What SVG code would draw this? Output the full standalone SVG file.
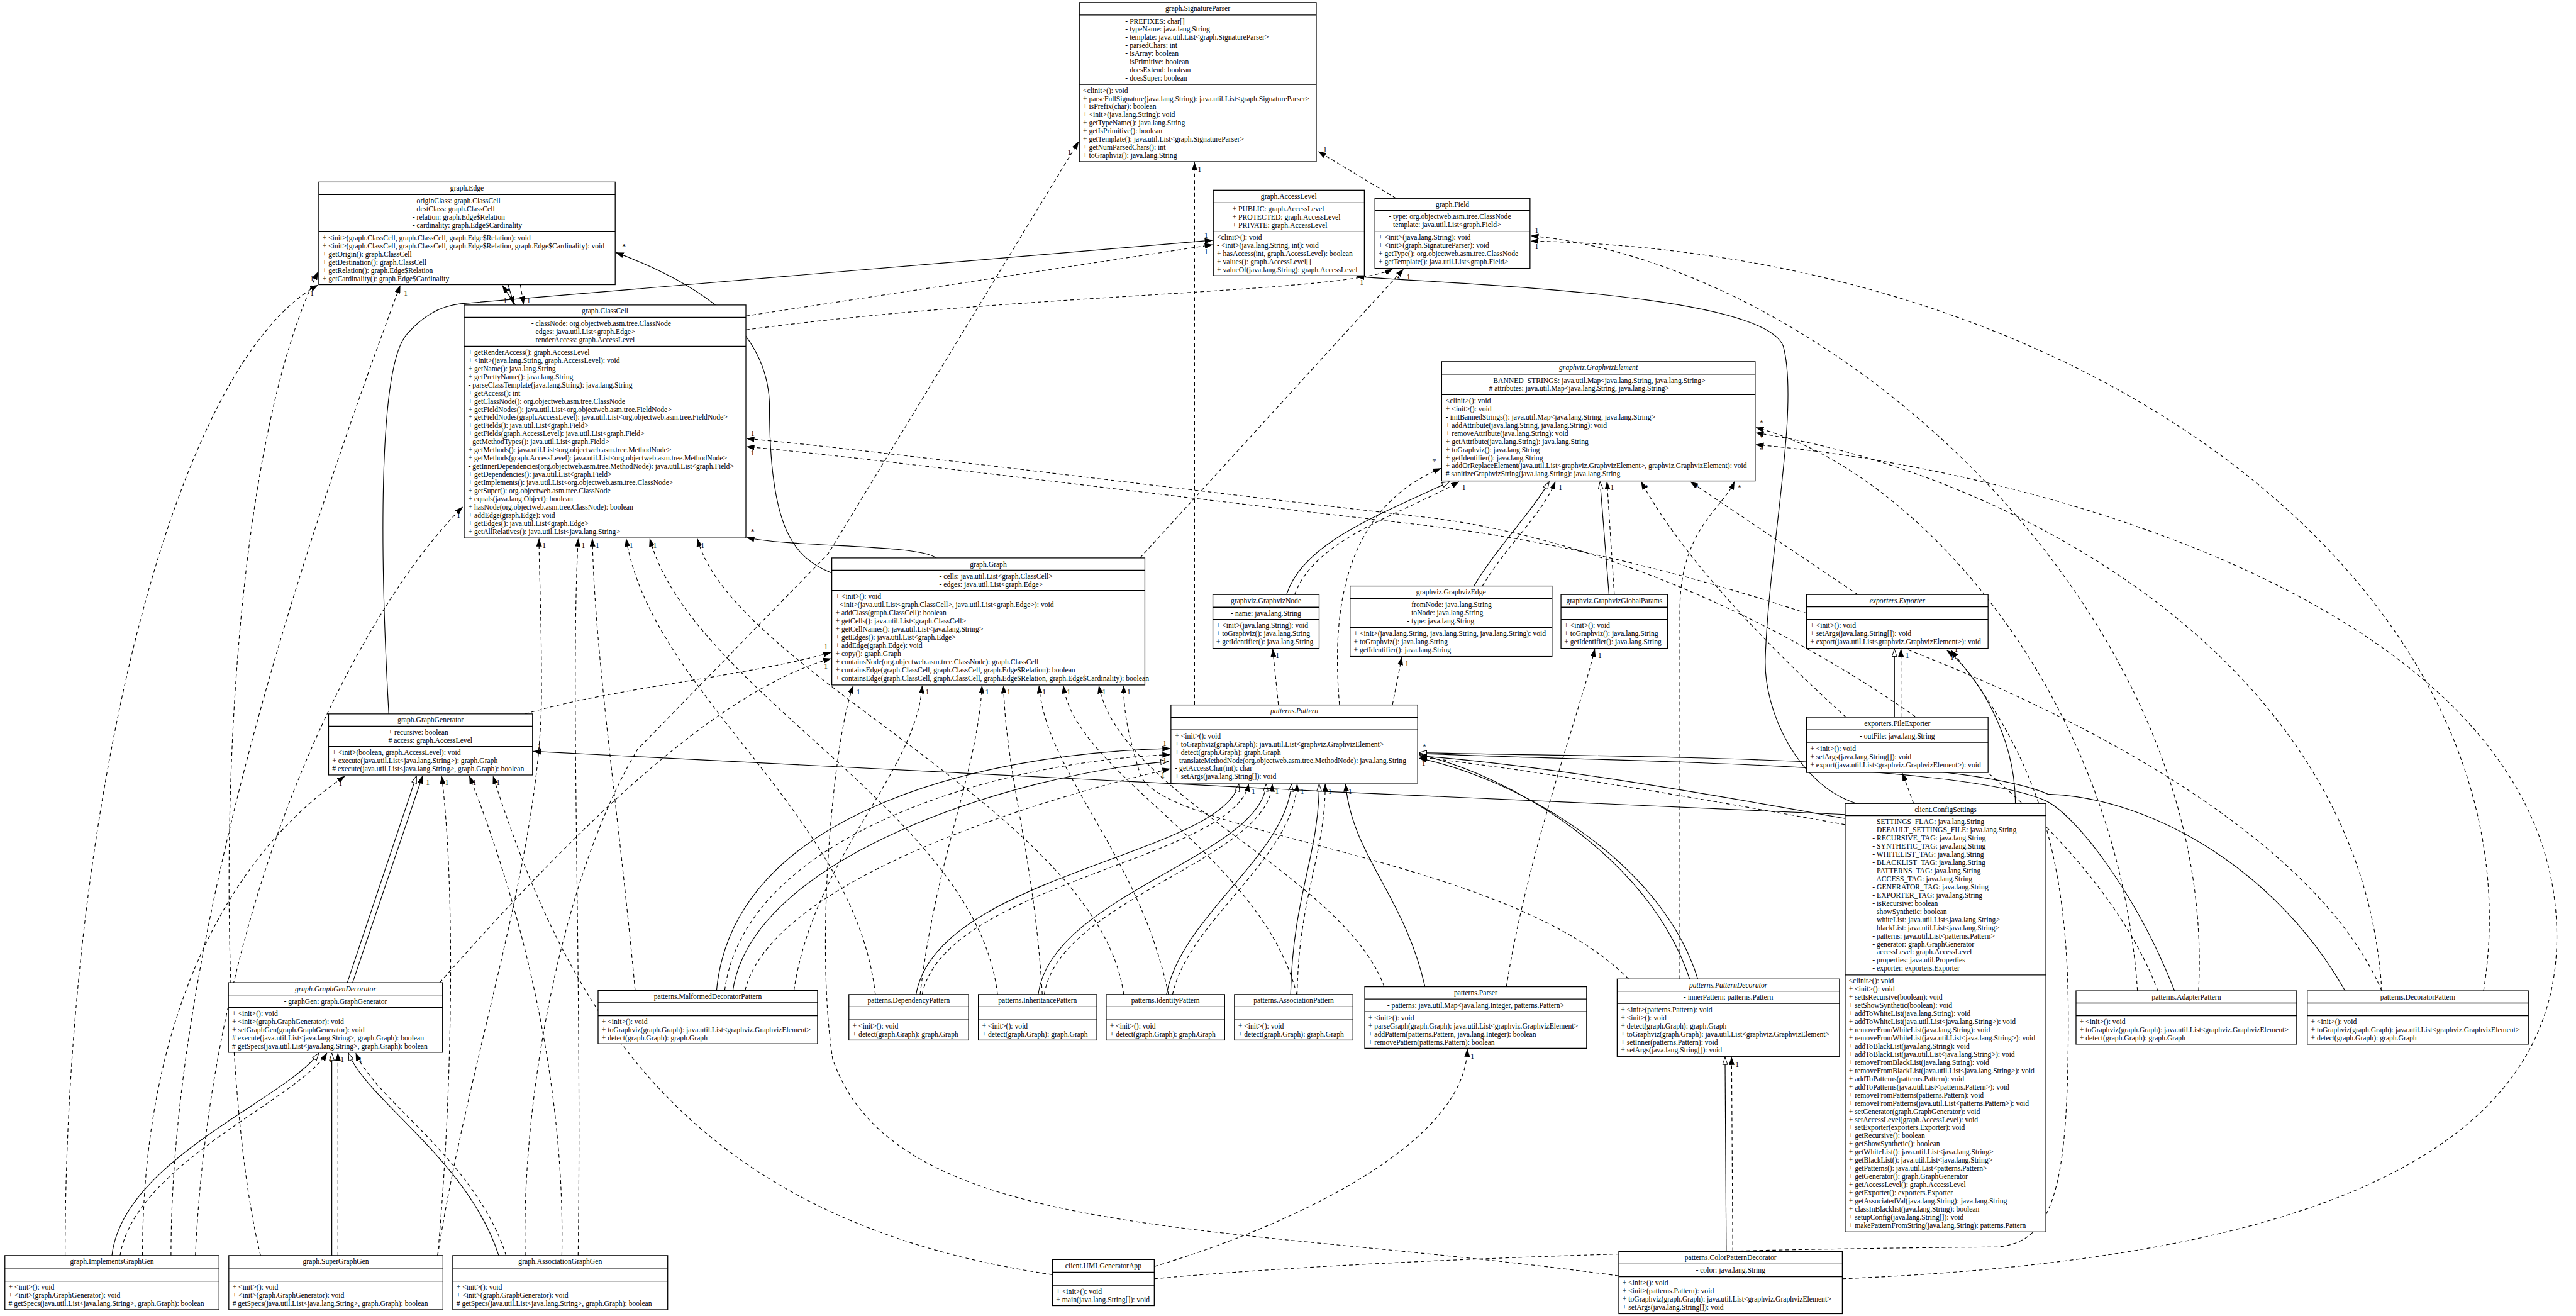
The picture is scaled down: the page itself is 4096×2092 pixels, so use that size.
<svg xmlns="http://www.w3.org/2000/svg" width="4096" height="2092" viewBox="0 0 4096 2092">
<defs>
<style>
.b{fill:#fff;stroke:#000;stroke-width:2}
.dv{stroke:#000;stroke-width:2;fill:none}
text{font-family:"Liberation Serif","Times New Roman",serif;font-size:18px;fill:#000}
.c{text-anchor:middle}
.i{font-style:italic}
.e{fill:none;stroke:#000;stroke-width:1.8}
.d{stroke-dasharray:9 7}
.f{marker-end:url(#af)}
.h{marker-end:url(#ah)}
</style>
<marker id="af" markerUnits="userSpaceOnUse" markerWidth="20" markerHeight="14" viewBox="0 0 20 14" refX="19" refY="7" orient="auto"><path d="M0,0L20,7L0,14z" fill="#000"/></marker>
<marker id="ah" markerUnits="userSpaceOnUse" markerWidth="20" markerHeight="14" viewBox="0 0 20 14" refX="19" refY="7" orient="auto"><path d="M1,1L19,7L1,13z" fill="#fff" stroke="#000" stroke-width="1.5"/></marker>
</defs>
<rect width="4096" height="2092" fill="#fff"/>
<g transform="scale(0.64738)">
<g id="connectors">
<path class="e d f" d="M3429,487 L3238,372"/>
<path class="e d f" d="M2934,1731 L2934,399"/>
<path class="e d f" d="M1290,3083 C1280,2700 1380,2150 1566,1840 L2034,1360 L2649,348"/>
<path class="e d f" d="M420,3083 C420,2300 760,1300 983,701"/>
<path class="e f" d="M1266,749 L1234,701"/>
<path class="e f" d="M1248,699 L1262,747"/>
<path class="e d f" d="M1278,699 L1286,747"/>
<path class="e f" d="M2043,1407 C1950,1370 1890,1300 1890,1000 C1890,800 1700,690 1513,620"/>
<path class="e d f" d="M640,3083 C520,2600 520,1200 781,668"/>
<path class="e d f" d="M160,3083 C160,2000 420,900 781,700"/>
<path class="e f" d="M955,1753 C935,1400 925,900 1000,820 C1040,775 1080,752 1131,746 L2978,590"/>
<path class="e d f" d="M1832,776 L2978,601"/>
<path class="e d f" d="M480,3083 C520,2200 880,1500 1136,1245"/>
<path class="e d f" d="M1075,3083 C1150,2600 1330,2100 1330,1700 C1330,1500 1324,1400 1324,1323"/>
<path class="e d f" d="M1420,3083 C1430,2400 1400,1700 1420,1323"/>
<path class="e d f" d="M1560,2432 C1520,2000 1460,1600 1455,1323"/>
<path class="e d f" d="M2150,2442 C2100,2000 1600,1700 1538,1323"/>
<path class="e d f" d="M2450,2442 C2400,2000 1700,1700 1596,1323"/>
<path class="e d f" d="M2760,2442 C2700,2000 1800,1650 1713,1323"/>
<path class="e d f" d="M5300,2433 C5100,1900 4200,1350 3500,1270 C2800,1190 2100,1100 1834,1077"/>
<path class="e d f" d="M5850,2433 C5600,1850 4300,1380 3500,1290 C2800,1210 2100,1120 1834,1097"/>
<path class="e f" d="M2300,1370 C2250,1335 1950,1345 1834,1320"/>
<path class="e d f" d="M1290,1753 C1500,1690 1840,1660 2041,1602"/>
<path class="e d f" d="M1080,2413 C1400,2050 1750,1700 2041,1617"/>
<path class="e d f" d="M1950,2432 C2000,2100 2250,1900 2265,1684"/>
<path class="e d f" d="M2260,2442 C2300,2100 2400,1900 2412,1684"/>
<path class="e d f" d="M2560,2442 C2540,2100 2470,1900 2465,1684"/>
<path class="e d f" d="M2870,2442 C2800,2100 2570,1900 2552,1684"/>
<path class="e d f" d="M3185,2442 C3100,2100 2640,1900 2612,1684"/>
<path class="e d f" d="M3400,2423 C3300,2150 2750,1950 2699,1684"/>
<path class="e d f" d="M4000,2404 C3700,2100 2850,2050 2800,1900 C2770,1800 2760,1750 2760,1684"/>
<path class="e h" d="M1800,2432 C1850,2100 2500,1900 2869,1870"/>
<path class="e d f" d="M1830,2432 C1900,2150 2600,1950 2874,1888"/>
<path class="e f" d="M1760,2432 C1800,2000 2400,1850 2874,1838"/>
<path class="e d f" d="M1780,2432 C1830,2050 2450,1870 2874,1853"/>
<path class="e h" d="M2250,2442 C2300,2150 3000,2100 3043,1925"/>
<path class="e d f" d="M2265,2442 C2320,2170 3030,2110 3067,1925"/>
<path class="e h" d="M2550,2442 C2580,2200 3100,2100 3110,1925"/>
<path class="e d f" d="M2565,2442 C2600,2210 3115,2110 3125,1925"/>
<path class="e h" d="M2865,2442 C2900,2250 3160,2100 3172,1925"/>
<path class="e d f" d="M2880,2442 C2920,2260 3175,2110 3186,1925"/>
<path class="e h" d="M3170,2442 C3175,2200 3240,2100 3240,1925"/>
<path class="e d f" d="M3186,2442 C3190,2200 3255,2100 3255,1925"/>
<path class="e f" d="M3500,2423 C3450,2200 3320,2100 3305,1925"/>
<path class="e h" d="M4150,2404 C4050,2100 3700,1900 3486,1853"/>
<path class="e f" d="M4170,2404 C4080,2110 3720,1910 3486,1862"/>
<path class="e h" d="M5341,2433 C5250,2200 5100,2000 5022,1965 C4800,1870 3900,1870 3486,1850"/>
<path class="e h" d="M5760,2433 C5600,2150 5300,1960 5030,1950 C4800,1850 3900,1860 3486,1848"/>
<path class="e f" d="M4532,2010 C4200,1950 3800,1880 3486,1856"/>
<path class="e d f" d="M4532,2025 C4200,1965 3800,1895 3486,1859"/>
<path class="e d f" d="M5400,2433 C5450,1500 4500,650 3760,579"/>
<path class="e d f" d="M6100,2433 C6250,1500 5200,620 3760,592"/>
<path class="e d f" d="M5250,2433 C5200,1700 4700,1150 4313,1050"/>
<path class="e d f" d="M5850,2433 C5800,1600 4900,1150 4313,1063"/>
<path class="e d f" d="M4126,2404 L4126,1500 C4126,1300 4230,1250 4260,1183"/>
<path class="e d f" d="M3290,1731 C3270,1500 3300,1250 3539,1150"/>
<path class="e d f" d="M3140,1731 L3126,1594"/>
<path class="e d f" d="M3420,1731 L3443,1614"/>
<path class="e d f" d="M3700,2423 C3750,2100 3880,1750 3917,1594"/>
<path class="e d f" d="M4563,1460 L4152,1183"/>
<path class="e f" d="M4950,1973 C4950,1800 4850,1650 4782,1597"/>
<path class="e d f" d="M2835,3140 C3500,3080 4500,3065 4900,3062 C5050,3055 5080,2900 5080,2500 C5080,2100 5000,1850 4792,1597"/>
<path class="e d f" d="M4700,1973 L4673,1899"/>
<path class="e d f" d="M4534,1761 C4400,1640 4150,1400 4031,1183"/>
<path class="e f" d="M4532,2000 C3500,1960 2000,1880 1310,1845"/>
<path class="e f" d="M4560,1973 C4420,1930 4330,1750 4336,1613 C4345,1350 4420,1000 4380,850 C4330,720 3600,700 3332,679"/>
<path class="e d f" d="M1832,810 C2500,720 3300,720 3420,661"/>
<path class="e d f" d="M2800,1370 L3447,661"/>
<path class="e d f" d="M2835,3110 C3200,3000 3600,2800 3604,2576"/>
<path class="e h" d="M4240,3073 L4237,2596"/>
<path class="e d f" d="M4256,3073 L4253,2596"/>
<path class="e d f" d="M4525,3140 C5500,3100 6280,2900 6280,2300 C6280,1500 5000,1150 4313,1092"/>
<path class="e d f" d="M3976,3133 C3000,3000 2200,3050 2045,2600 C2000,2300 2050,1800 2096,1684"/>
<path class="e d f" d="M2585,3130 C1700,3000 1400,2500 1211,1906"/>
<path class="e d f" d="M1075,3083 C1110,2700 1120,2200 1085,1906"/>
<path class="e d f" d="M1380,3083 C1390,2600 1250,2150 1153,1906"/>
<path class="e d f" d="M350,3083 C350,2500 560,2100 847,1906"/>
<path class="e h" d="M275,3083 C300,2850 700,2700 783,2586"/>
<path class="e d f" d="M295,3083 C330,2860 730,2700 803,2586"/>
<path class="e h" d="M815,3083 L815,2586"/>
<path class="e d f" d="M830,3083 L830,2586"/>
<path class="e h" d="M1225,3083 C1150,2850 900,2700 856,2586"/>
<path class="e d f" d="M1243,3083 C1170,2850 920,2700 874,2586"/>
<path class="e h" d="M853,2413 L1023,1905"/>
<path class="e f" d="M866,2413 L1038,1905"/>
<path class="e h" d="M3160,1460 C3200,1330 3400,1260 3560,1183"/>
<path class="e d f" d="M3180,1460 C3230,1320 3450,1260 3583,1183"/>
<path class="e h" d="M3620,1439 C3680,1340 3760,1260 3805,1183"/>
<path class="e d f" d="M3641,1439 C3700,1340 3790,1260 3820,1183"/>
<path class="e h" d="M3952,1460 L3930,1183"/>
<path class="e d f" d="M3965,1460 L3947,1183"/>
<path class="e h" d="M4653,1761 L4653,1594"/>
<path class="e d f" d="M4669,1761 L4669,1594"/>
<g id="labels">
<text x="3250" y="374">1</text>
<text x="2942" y="422">1</text>
<text x="2622" y="380">1</text>
<text x="992" y="726">1</text>
<text x="1244" y="720">*</text>
<text x="1236" y="744">1</text>
<text x="1294" y="744">1</text>
<text x="1528" y="612">*</text>
<text x="762" y="690">1</text>
<text x="762" y="726">1</text>
<text x="2958" y="584">1</text>
<text x="2958" y="624">1</text>
<text x="1122" y="1272">1</text>
<text x="1332" y="1346">1</text>
<text x="1428" y="1346">1</text>
<text x="1463" y="1346">1</text>
<text x="1546" y="1346">1</text>
<text x="1604" y="1346">1</text>
<text x="1721" y="1346">1</text>
<text x="1844" y="1070">1</text>
<text x="1844" y="1118">1</text>
<text x="1844" y="1312">*</text>
<text x="2024" y="1594">1</text>
<text x="2024" y="1642">1</text>
<text x="2273" y="1706">1</text>
<text x="2420" y="1706">1</text>
<text x="2473" y="1706">1</text>
<text x="2560" y="1706">1</text>
<text x="2620" y="1706">1</text>
<text x="2707" y="1706">1</text>
<text x="2768" y="1706">1</text>
<text x="2104" y="1706">1</text>
<text x="2856" y="1832">1</text>
<text x="2856" y="1874">1</text>
<text x="2852" y="1910">1</text>
<text x="3074" y="1950">1</text>
<text x="3132" y="1950">1</text>
<text x="3194" y="1950">1</text>
<text x="3262" y="1950">1</text>
<text x="3312" y="1950">1</text>
<text x="3492" y="1880">1</text>
<text x="3494" y="1840">*</text>
<text x="3770" y="572">1</text>
<text x="3770" y="612">1</text>
<text x="4322" y="1044">*</text>
<text x="4322" y="1080">*</text>
<text x="4322" y="1110">*</text>
<text x="4268" y="1204">*</text>
<text x="3518" y="1138">*</text>
<text x="3133" y="1616">1</text>
<text x="3451" y="1636">1</text>
<text x="3925" y="1616">1</text>
<text x="4162" y="1202">*</text>
<text x="4790" y="1620">1</text>
<text x="4800" y="1600">1</text>
<text x="4680" y="1616">1</text>
<text x="4040" y="1204">*</text>
<text x="1320" y="1838">1</text>
<text x="3340" y="700">1</text>
<text x="3430" y="690">*</text>
<text x="3455" y="686">1</text>
<text x="3612" y="2600">1</text>
<text x="4262" y="2620">1</text>
<text x="1219" y="1928">1</text>
<text x="1093" y="1928">1</text>
<text x="1161" y="1928">1</text>
<text x="832" y="1930">1</text>
<text x="1046" y="1928">1</text>
<text x="808" y="2608">1</text>
<text x="836" y="2608">1</text>
<text x="880" y="2608">1</text>
<text x="3591" y="1204">1</text>
<text x="3828" y="1204">1</text>
<text x="3955" y="1204">1</text>
</g>
</g>
<g id="SignatureParser"><rect class="b" x="2651" y="6" width="582" height="391"/><path class="dv" d="M2651,37H3233M2651,207H3233"/><text class="c" x="2942" y="27">graph.SignatureParser</text>
<text x="2764" y="58">- PREFIXES: char[]<tspan x="2764" dy="20">- typeName: java.lang.String</tspan><tspan x="2764" dy="20">- template: java.util.List&lt;graph.SignatureParser&gt;</tspan><tspan x="2764" dy="20">- parsedChars: int</tspan><tspan x="2764" dy="20">- isArray: boolean</tspan><tspan x="2764" dy="20">- isPrimitive: boolean</tspan><tspan x="2764" dy="20">- doesExtend: boolean</tspan><tspan x="2764" dy="20">- doesSuper: boolean</tspan></text>
<text x="2660" y="228">&lt;clinit&gt;(): void<tspan x="2660" dy="20">+ parseFullSignature(java.lang.String): java.util.List&lt;graph.SignatureParser&gt;</tspan><tspan x="2660" dy="20">+ isPrefix(char): boolean</tspan><tspan x="2660" dy="20">+ &lt;init&gt;(java.lang.String): void</tspan><tspan x="2660" dy="20">+ getTypeName(): java.lang.String</tspan><tspan x="2660" dy="20">+ getIsPrimitive(): boolean</tspan><tspan x="2660" dy="20">+ getTemplate(): java.util.List&lt;graph.SignatureParser&gt;</tspan><tspan x="2660" dy="20">+ getNumParsedChars(): int</tspan><tspan x="2660" dy="20">+ toGraphviz(): java.lang.String</tspan></text></g>
<g id="AccessLevel"><rect class="b" x="2980" y="467" width="371" height="210"/><path class="dv" d="M2980,498H3351M2980,568H3351"/><text class="c" x="3165.5" y="488">graph.AccessLevel</text>
<text x="3027" y="519">+ PUBLIC: graph.AccessLevel<tspan x="3027" dy="20">+ PROTECTED: graph.AccessLevel</tspan><tspan x="3027" dy="20">+ PRIVATE: graph.AccessLevel</tspan></text>
<text x="2989" y="589">&lt;clinit&gt;(): void<tspan x="2989" dy="20">- &lt;init&gt;(java.lang.String, int): void</tspan><tspan x="2989" dy="20">+ hasAccess(int, graph.AccessLevel): boolean</tspan><tspan x="2989" dy="20">+ values(): graph.AccessLevel[]</tspan><tspan x="2989" dy="20">+ valueOf(java.lang.String): graph.AccessLevel</tspan></text></g>
<g id="Field"><rect class="b" x="3377" y="487" width="381" height="172"/><path class="dv" d="M3377,517H3758M3377,568H3758"/><text class="c" x="3567.5" y="508">graph.Field</text>
<text x="3411" y="538">- type: org.objectweb.asm.tree.ClassNode<tspan x="3411" dy="20">- template: java.util.List&lt;graph.Field&gt;</tspan></text>
<text x="3386" y="589">+ &lt;init&gt;(java.lang.String): void<tspan x="3386" dy="20">+ &lt;init&gt;(graph.SignatureParser): void</tspan><tspan x="3386" dy="20">+ getType(): org.objectweb.asm.tree.ClassNode</tspan><tspan x="3386" dy="20">+ getTemplate(): java.util.List&lt;graph.Field&gt;</tspan></text></g>
<g id="Edge"><rect class="b" x="783" y="447" width="728" height="252"/><path class="dv" d="M783,478H1511M783,569H1511"/><text class="c" x="1147" y="468">graph.Edge</text>
<text x="1013" y="499">- originClass: graph.ClassCell<tspan x="1013" dy="20">- destClass: graph.ClassCell</tspan><tspan x="1013" dy="20">- relation: graph.Edge$Relation</tspan><tspan x="1013" dy="20">- cardinality: graph.Edge$Cardinality</tspan></text>
<text x="792" y="590">+ &lt;init&gt;(graph.ClassCell, graph.ClassCell, graph.Edge$Relation): void<tspan x="792" dy="20">+ &lt;init&gt;(graph.ClassCell, graph.ClassCell, graph.Edge$Relation, graph.Edge$Cardinality): void</tspan><tspan x="792" dy="20">+ getOrigin(): graph.ClassCell</tspan><tspan x="792" dy="20">+ getDestination(): graph.ClassCell</tspan><tspan x="792" dy="20">+ getRelation(): graph.Edge$Relation</tspan><tspan x="792" dy="20">+ getCardinality(): graph.Edge$Cardinality</tspan></text></g>
<g id="ClassCell"><rect class="b" x="1140" y="749" width="692" height="572"/><path class="dv" d="M1140,779H1832M1140,850H1832"/><text class="c" x="1486" y="770">graph.ClassCell</text>
<text x="1305" y="800">- classNode: org.objectweb.asm.tree.ClassNode<tspan x="1305" dy="20">- edges: java.util.List&lt;graph.Edge&gt;</tspan><tspan x="1305" dy="20">- renderAccess: graph.AccessLevel</tspan></text>
<text x="1150" y="871">+ getRenderAccess(): graph.AccessLevel<tspan x="1150" dy="20">+ &lt;init&gt;(java.lang.String, graph.AccessLevel): void</tspan><tspan x="1150" dy="20">+ getName(): java.lang.String</tspan><tspan x="1150" dy="20">+ getPrettyName(): java.lang.String</tspan><tspan x="1150" dy="20">- parseClassTemplate(java.lang.String): java.lang.String</tspan><tspan x="1150" dy="20">+ getAccess(): int</tspan><tspan x="1150" dy="20">+ getClassNode(): org.objectweb.asm.tree.ClassNode</tspan><tspan x="1150" dy="20">+ getFieldNodes(): java.util.List&lt;org.objectweb.asm.tree.FieldNode&gt;</tspan><tspan x="1150" dy="20">+ getFieldNodes(graph.AccessLevel): java.util.List&lt;org.objectweb.asm.tree.FieldNode&gt;</tspan><tspan x="1150" dy="20">+ getFields(): java.util.List&lt;graph.Field&gt;</tspan><tspan x="1150" dy="20">+ getFields(graph.AccessLevel): java.util.List&lt;graph.Field&gt;</tspan><tspan x="1150" dy="20">- getMethodTypes(): java.util.List&lt;graph.Field&gt;</tspan><tspan x="1150" dy="20">+ getMethods(): java.util.List&lt;org.objectweb.asm.tree.MethodNode&gt;</tspan><tspan x="1150" dy="20">+ getMethods(graph.AccessLevel): java.util.List&lt;org.objectweb.asm.tree.MethodNode&gt;</tspan><tspan x="1150" dy="20">- getInnerDependencies(org.objectweb.asm.tree.MethodNode): java.util.List&lt;graph.Field&gt;</tspan><tspan x="1150" dy="20">+ getDependencies(): java.util.List&lt;graph.Field&gt;</tspan><tspan x="1150" dy="20">+ getImplements(): java.util.List&lt;org.objectweb.asm.tree.ClassNode&gt;</tspan><tspan x="1150" dy="20">+ getSuper(): org.objectweb.asm.tree.ClassNode</tspan><tspan x="1150" dy="20">+ equals(java.lang.Object): boolean</tspan><tspan x="1150" dy="20">+ hasNode(org.objectweb.asm.tree.ClassNode): boolean</tspan><tspan x="1150" dy="20">+ addEdge(graph.Edge): void</tspan><tspan x="1150" dy="20">+ getEdges(): java.util.List&lt;graph.Edge&gt;</tspan><tspan x="1150" dy="20">+ getAllRelatives(): java.util.List&lt;java.lang.String&gt;</tspan></text></g>
<g id="GraphvizElement"><rect class="b" x="3541" y="888" width="770" height="293"/><path class="dv" d="M3541,919H4311M3541,969H4311"/><text class="c i" x="3926" y="909">graphviz.GraphvizElement</text>
<text x="3657" y="940">- BANNED_STRINGS: java.util.Map&lt;java.lang.String, java.lang.String&gt;<tspan x="3657" dy="20"># attributes: java.util.Map&lt;java.lang.String, java.lang.String&gt;</tspan></text>
<text x="3551" y="990">&lt;clinit&gt;(): void<tspan x="3551" dy="20">+ &lt;init&gt;(): void</tspan><tspan x="3551" dy="20">- initBannedStrings(): java.util.Map&lt;java.lang.String, java.lang.String&gt;</tspan><tspan x="3551" dy="20">+ addAttribute(java.lang.String, java.lang.String): void</tspan><tspan x="3551" dy="20">+ removeAttribute(java.lang.String): void</tspan><tspan x="3551" dy="20">+ getAttribute(java.lang.String): java.lang.String</tspan><tspan x="3551" dy="20">+ toGraphviz(): java.lang.String</tspan><tspan x="3551" dy="20">+ getIdentifier(): java.lang.String</tspan><tspan x="3551" dy="20">+ addOrReplaceElement(java.util.List&lt;graphviz.GraphvizElement&gt;, graphviz.GraphvizElement): void</tspan><tspan x="3551" dy="20"># sanitizeGraphvizString(java.lang.String): java.lang.String</tspan></text></g>
<g id="Graph"><rect class="b" x="2043" y="1370" width="769" height="312"/><path class="dv" d="M2043,1400H2812M2043,1450H2812"/><text class="c" x="2427.5" y="1391">graph.Graph</text>
<text x="2307" y="1421">- cells: java.util.List&lt;graph.ClassCell&gt;<tspan x="2307" dy="20">- edges: java.util.List&lt;graph.Edge&gt;</tspan></text>
<text x="2052" y="1471">+ &lt;init&gt;(): void<tspan x="2052" dy="20">- &lt;init&gt;(java.util.List&lt;graph.ClassCell&gt;, java.util.List&lt;graph.Edge&gt;): void</tspan><tspan x="2052" dy="20">+ addClass(graph.ClassCell): boolean</tspan><tspan x="2052" dy="20">+ getCells(): java.util.List&lt;graph.ClassCell&gt;</tspan><tspan x="2052" dy="20">+ getCellNames(): java.util.List&lt;java.lang.String&gt;</tspan><tspan x="2052" dy="20">+ getEdges(): java.util.List&lt;graph.Edge&gt;</tspan><tspan x="2052" dy="20">+ addEdge(graph.Edge): void</tspan><tspan x="2052" dy="20">+ copy(): graph.Graph</tspan><tspan x="2052" dy="20">+ containsNode(org.objectweb.asm.tree.ClassNode): graph.ClassCell</tspan><tspan x="2052" dy="20">+ containsEdge(graph.ClassCell, graph.ClassCell, graph.Edge$Relation): boolean</tspan><tspan x="2052" dy="20">+ containsEdge(graph.ClassCell, graph.ClassCell, graph.Edge$Relation, graph.Edge$Cardinality): boolean</tspan></text></g>
<g id="GraphvizNode"><rect class="b" x="2979" y="1460" width="261" height="132"/><path class="dv" d="M2979,1491H3240M2979,1521H3240"/><text class="c" x="3109.5" y="1481">graphviz.GraphvizNode</text><text class="c" x="3109.5" y="1512">- name: java.lang.String</text>
<text x="2987" y="1542">+ &lt;init&gt;(java.lang.String): void<tspan x="2987" dy="20">+ toGraphviz(): java.lang.String</tspan><tspan x="2987" dy="20">+ getIdentifier(): java.lang.String</tspan></text></g>
<g id="GraphvizEdge"><rect class="b" x="3316" y="1439" width="496" height="173"/><path class="dv" d="M3316,1470H3812M3316,1541H3812"/><text class="c" x="3564" y="1460">graphviz.GraphvizEdge</text>
<text x="3456" y="1491">- fromNode: java.lang.String<tspan x="3456" dy="20">- toNode: java.lang.String</tspan><tspan x="3456" dy="20">- type: java.lang.String</tspan></text>
<text x="3325" y="1562">+ &lt;init&gt;(java.lang.String, java.lang.String, java.lang.String): void<tspan x="3325" dy="20">+ toGraphviz(): java.lang.String</tspan><tspan x="3325" dy="20">+ getIdentifier(): java.lang.String</tspan></text></g>
<g id="GraphvizGlobalParams"><rect class="b" x="3834" y="1460" width="262" height="132"/><path class="dv" d="M3834,1491H4096M3834,1521H4096"/><text class="c" x="3965" y="1481">graphviz.GraphvizGlobalParams</text>
<text x="3842" y="1542">+ &lt;init&gt;(): void<tspan x="3842" dy="20">+ toGraphviz(): java.lang.String</tspan><tspan x="3842" dy="20">+ getIdentifier(): java.lang.String</tspan></text></g>
<g id="Exporter"><rect class="b" x="4437" y="1460" width="446" height="132"/><path class="dv" d="M4437,1490H4883M4437,1521H4883"/><text class="c i" x="4660" y="1481">exporters.Exporter</text>
<text x="4446" y="1542">+ &lt;init&gt;(): void<tspan x="4446" dy="20">+ setArgs(java.lang.String[]): void</tspan><tspan x="4446" dy="20">+ export(java.util.List&lt;graphviz.GraphvizElement&gt;): void</tspan></text></g>
<g id="FileExporter"><rect class="b" x="4437" y="1761" width="446" height="136"/><path class="dv" d="M4437,1792H4883M4437,1823H4883"/><text class="c" x="4660" y="1782">exporters.FileExporter</text><text class="c" x="4660" y="1813">- outFile: java.lang.String</text>
<text x="4446" y="1844">+ &lt;init&gt;(): void<tspan x="4446" dy="20">+ setArgs(java.lang.String[]): void</tspan><tspan x="4446" dy="20">+ export(java.util.List&lt;graphviz.GraphvizElement&gt;): void</tspan></text></g>
<g id="Pattern"><rect class="b" x="2876" y="1731" width="606" height="192"/><path class="dv" d="M2876,1762H3482M2876,1792H3482"/><text class="c i" x="3179" y="1752">patterns.Pattern</text>
<text x="2886" y="1813">+ &lt;init&gt;(): void<tspan x="2886" dy="20">+ toGraphviz(graph.Graph): java.util.List&lt;graphviz.GraphvizElement&gt;</tspan><tspan x="2886" dy="20">+ detect(graph.Graph): graph.Graph</tspan><tspan x="2886" dy="20">- translateMethodNode(org.objectweb.asm.tree.MethodNode): java.lang.String</tspan><tspan x="2886" dy="20">- getAccessChar(int): char</tspan><tspan x="2886" dy="20">+ setArgs(java.lang.String[]): void</tspan></text></g>
<g id="GraphGenerator"><rect class="b" x="807" y="1753" width="501" height="150"/><path class="dv" d="M807,1783H1308M807,1833H1308"/><text class="c" x="1057.5" y="1774">graph.GraphGenerator</text>
<text x="954" y="1804">+ recursive: boolean<tspan x="954" dy="20"># access: graph.AccessLevel</tspan></text>
<text x="816" y="1854">+ &lt;init&gt;(boolean, graph.AccessLevel): void<tspan x="816" dy="20">+ execute(java.util.List&lt;java.lang.String&gt;): graph.Graph</tspan><tspan x="816" dy="20"># execute(java.util.List&lt;java.lang.String&gt;, graph.Graph): boolean</tspan></text></g>
<g id="GraphGenDecorator"><rect class="b" x="561" y="2413" width="526" height="171"/><path class="dv" d="M561,2443H1087M561,2474H1087"/><text class="c i" x="824" y="2434">graph.GraphGenDecorator</text><text class="c" x="824" y="2465">- graphGen: graph.GraphGenerator</text>
<text x="570" y="2495">+ &lt;init&gt;(): void<tspan x="570" dy="20">+ &lt;init&gt;(graph.GraphGenerator): void</tspan><tspan x="570" dy="20">+ setGraphGen(graph.GraphGenerator): void</tspan><tspan x="570" dy="20"># execute(java.util.List&lt;java.lang.String&gt;, graph.Graph): boolean</tspan><tspan x="570" dy="20"># getSpecs(java.util.List&lt;java.lang.String&gt;, graph.Graph): boolean</tspan></text></g>
<g id="ConfigSettings"><rect class="b" x="4532" y="1973" width="493" height="1052"/><path class="dv" d="M4532,2003H5025M4532,2394H5025"/><text class="c" x="4778.5" y="1994">client.ConfigSettings</text>
<text x="4599" y="2024">- SETTINGS_FLAG: java.lang.String<tspan x="4599" dy="20">- DEFAULT_SETTINGS_FILE: java.lang.String</tspan><tspan x="4599" dy="20">- RECURSIVE_TAG: java.lang.String</tspan><tspan x="4599" dy="20">- SYNTHETIC_TAG: java.lang.String</tspan><tspan x="4599" dy="20">- WHITELIST_TAG: java.lang.String</tspan><tspan x="4599" dy="20">- BLACKLIST_TAG: java.lang.String</tspan><tspan x="4599" dy="20">- PATTERNS_TAG: java.lang.String</tspan><tspan x="4599" dy="20">- ACCESS_TAG: java.lang.String</tspan><tspan x="4599" dy="20">- GENERATOR_TAG: java.lang.String</tspan><tspan x="4599" dy="20">- EXPORTER_TAG: java.lang.String</tspan><tspan x="4599" dy="20">- isRecursive: boolean</tspan><tspan x="4599" dy="20">- showSynthetic: boolean</tspan><tspan x="4599" dy="20">- whiteList: java.util.List&lt;java.lang.String&gt;</tspan><tspan x="4599" dy="20">- blackList: java.util.List&lt;java.lang.String&gt;</tspan><tspan x="4599" dy="20">- patterns: java.util.List&lt;patterns.Pattern&gt;</tspan><tspan x="4599" dy="20">- generator: graph.GraphGenerator</tspan><tspan x="4599" dy="20">- accessLevel: graph.AccessLevel</tspan><tspan x="4599" dy="20">- properties: java.util.Properties</tspan><tspan x="4599" dy="20">- exporter: exporters.Exporter</tspan></text>
<text x="4541" y="2415">&lt;clinit&gt;(): void<tspan x="4541" dy="20">+ &lt;init&gt;(): void</tspan><tspan x="4541" dy="20">+ setIsRecursive(boolean): void</tspan><tspan x="4541" dy="20">+ setShowSynthetic(boolean): void</tspan><tspan x="4541" dy="20">+ addToWhiteList(java.lang.String): void</tspan><tspan x="4541" dy="20">+ addToWhiteList(java.util.List&lt;java.lang.String&gt;): void</tspan><tspan x="4541" dy="20">+ removeFromWhiteList(java.lang.String): void</tspan><tspan x="4541" dy="20">+ removeFromWhiteList(java.util.List&lt;java.lang.String&gt;): void</tspan><tspan x="4541" dy="20">+ addToBlackList(java.lang.String): void</tspan><tspan x="4541" dy="20">+ addToBlackList(java.util.List&lt;java.lang.String&gt;): void</tspan><tspan x="4541" dy="20">+ removeFromBlackList(java.lang.String): void</tspan><tspan x="4541" dy="20">+ removeFromBlackList(java.util.List&lt;java.lang.String&gt;): void</tspan><tspan x="4541" dy="20">+ addToPatterns(patterns.Pattern): void</tspan><tspan x="4541" dy="20">+ addToPatterns(java.util.List&lt;patterns.Pattern&gt;): void</tspan><tspan x="4541" dy="20">+ removeFromPatterns(patterns.Pattern): void</tspan><tspan x="4541" dy="20">+ removeFromPatterns(java.util.List&lt;patterns.Pattern&gt;): void</tspan><tspan x="4541" dy="20">+ setGenerator(graph.GraphGenerator): void</tspan><tspan x="4541" dy="20">+ setAccessLevel(graph.AccessLevel): void</tspan><tspan x="4541" dy="20">+ setExporter(exporters.Exporter): void</tspan><tspan x="4541" dy="20">+ getRecursive(): boolean</tspan><tspan x="4541" dy="20">+ getShowSynthetic(): boolean</tspan><tspan x="4541" dy="20">+ getWhiteList(): java.util.List&lt;java.lang.String&gt;</tspan><tspan x="4541" dy="20">+ getBlackList(): java.util.List&lt;java.lang.String&gt;</tspan><tspan x="4541" dy="20">+ getPatterns(): java.util.List&lt;patterns.Pattern&gt;</tspan><tspan x="4541" dy="20">+ getGenerator(): graph.GraphGenerator</tspan><tspan x="4541" dy="20">+ getAccessLevel(): graph.AccessLevel</tspan><tspan x="4541" dy="20">+ getExporter(): exporters.Exporter</tspan><tspan x="4541" dy="20">+ getAssociatedVal(java.lang.String): java.lang.String</tspan><tspan x="4541" dy="20">+ classInBlacklist(java.lang.String): boolean</tspan><tspan x="4541" dy="20">+ setupConfig(java.lang.String[]): void</tspan><tspan x="4541" dy="20">+ makePatternFromString(java.lang.String): patterns.Pattern</tspan></text></g>
<g id="MalformedDecoratorPattern"><rect class="b" x="1469" y="2432" width="539" height="131"/><path class="dv" d="M1469,2462H2008M1469,2494H2008"/><text class="c" x="1738.5" y="2453">patterns.MalformedDecoratorPattern</text>
<text x="1478" y="2515">+ &lt;init&gt;(): void<tspan x="1478" dy="20">+ toGraphviz(graph.Graph): java.util.List&lt;graphviz.GraphvizElement&gt;</tspan><tspan x="1478" dy="20">+ detect(graph.Graph): graph.Graph</tspan></text></g>
<g id="DependencyPattern"><rect class="b" x="2085" y="2442" width="294" height="112"/><path class="dv" d="M2085,2472H2379M2085,2504H2379"/><text class="c" x="2232" y="2463">patterns.DependencyPattern</text>
<text x="2094" y="2525">+ &lt;init&gt;(): void<tspan x="2094" dy="20">+ detect(graph.Graph): graph.Graph</tspan></text></g>
<g id="InheritancePattern"><rect class="b" x="2403" y="2442" width="291" height="112"/><path class="dv" d="M2403,2472H2694M2403,2504H2694"/><text class="c" x="2548.5" y="2463">patterns.InheritancePattern</text>
<text x="2412" y="2525">+ &lt;init&gt;(): void<tspan x="2412" dy="20">+ detect(graph.Graph): graph.Graph</tspan></text></g>
<g id="IdentityPattern"><rect class="b" x="2717" y="2442" width="291" height="112"/><path class="dv" d="M2717,2472H3008M2717,2504H3008"/><text class="c" x="2862.5" y="2463">patterns.IdentityPattern</text>
<text x="2726" y="2525">+ &lt;init&gt;(): void<tspan x="2726" dy="20">+ detect(graph.Graph): graph.Graph</tspan></text></g>
<g id="AssociationPattern"><rect class="b" x="3032" y="2442" width="291" height="112"/><path class="dv" d="M3032,2472H3323M3032,2504H3323"/><text class="c" x="3177.5" y="2463">patterns.AssociationPattern</text>
<text x="3041" y="2525">+ &lt;init&gt;(): void<tspan x="3041" dy="20">+ detect(graph.Graph): graph.Graph</tspan></text></g>
<g id="Parser"><rect class="b" x="3352" y="2423" width="545" height="151"/><path class="dv" d="M3352,2453H3897M3352,2484H3897"/><text class="c" x="3624.5" y="2444">patterns.Parser</text><text class="c" x="3624.5" y="2475">- patterns: java.util.Map&lt;java.lang.Integer, patterns.Pattern&gt;</text>
<text x="3361" y="2505">+ &lt;init&gt;(): void<tspan x="3361" dy="20">+ parseGraph(graph.Graph): java.util.List&lt;graphviz.GraphvizElement&gt;</tspan><tspan x="3361" dy="20">+ addPattern(patterns.Pattern, java.lang.Integer): boolean</tspan><tspan x="3361" dy="20">+ removePattern(patterns.Pattern): boolean</tspan></text></g>
<g id="PatternDecorator"><rect class="b" x="3972" y="2404" width="546" height="190"/><path class="dv" d="M3972,2434H4518M3972,2464H4518"/><text class="c i" x="4245" y="2425">patterns.PatternDecorator</text><text class="c" x="4245" y="2455">- innerPattern: patterns.Pattern</text>
<text x="3981" y="2485">+ &lt;init&gt;(patterns.Pattern): void<tspan x="3981" dy="20">+ &lt;init&gt;(): void</tspan><tspan x="3981" dy="20">+ detect(graph.Graph): graph.Graph</tspan><tspan x="3981" dy="20">+ toGraphviz(graph.Graph): java.util.List&lt;graphviz.GraphvizElement&gt;</tspan><tspan x="3981" dy="20">+ setInner(patterns.Pattern): void</tspan><tspan x="3981" dy="20">+ setArgs(java.lang.String[]): void</tspan></text></g>
<g id="AdapterPattern"><rect class="b" x="5099" y="2433" width="542" height="131"/><path class="dv" d="M5099,2463H5641M5099,2494H5641"/><text class="c" x="5370" y="2454">patterns.AdapterPattern</text>
<text x="5108" y="2515">+ &lt;init&gt;(): void<tspan x="5108" dy="20">+ toGraphviz(graph.Graph): java.util.List&lt;graphviz.GraphvizElement&gt;</tspan><tspan x="5108" dy="20">+ detect(graph.Graph): graph.Graph</tspan></text></g>
<g id="DecoratorPattern"><rect class="b" x="5667" y="2433" width="543" height="131"/><path class="dv" d="M5667,2463H6210M5667,2494H6210"/><text class="c" x="5938.5" y="2454">patterns.DecoratorPattern</text>
<text x="5676" y="2515">+ &lt;init&gt;(): void<tspan x="5676" dy="20">+ toGraphviz(graph.Graph): java.util.List&lt;graphviz.GraphvizElement&gt;</tspan><tspan x="5676" dy="20">+ detect(graph.Graph): graph.Graph</tspan></text></g>
<g id="ImplementsGraphGen"><rect class="b" x="12" y="3083" width="526" height="133"/><path class="dv" d="M12,3114H538M12,3146H538"/><text class="c" x="275" y="3104">graph.ImplementsGraphGen</text>
<text x="21" y="3167">+ &lt;init&gt;(): void<tspan x="21" dy="20">+ &lt;init&gt;(graph.GraphGenerator): void</tspan><tspan x="21" dy="20"># getSpecs(java.util.List&lt;java.lang.String&gt;, graph.Graph): boolean</tspan></text></g>
<g id="SuperGraphGen"><rect class="b" x="562" y="3083" width="526" height="133"/><path class="dv" d="M562,3114H1088M562,3146H1088"/><text class="c" x="825" y="3104">graph.SuperGraphGen</text>
<text x="571" y="3167">+ &lt;init&gt;(): void<tspan x="571" dy="20">+ &lt;init&gt;(graph.GraphGenerator): void</tspan><tspan x="571" dy="20"># getSpecs(java.util.List&lt;java.lang.String&gt;, graph.Graph): boolean</tspan></text></g>
<g id="AssociationGraphGen"><rect class="b" x="1112" y="3083" width="528" height="133"/><path class="dv" d="M1112,3114H1640M1112,3146H1640"/><text class="c" x="1376" y="3104">graph.AssociationGraphGen</text>
<text x="1121" y="3167">+ &lt;init&gt;(): void<tspan x="1121" dy="20">+ &lt;init&gt;(graph.GraphGenerator): void</tspan><tspan x="1121" dy="20"># getSpecs(java.util.List&lt;java.lang.String&gt;, graph.Graph): boolean</tspan></text></g>
<g id="UMLGeneratorApp"><rect class="b" x="2585" y="3093" width="250" height="113"/><path class="dv" d="M2585,3124H2835M2585,3156H2835"/><text class="c" x="2710" y="3114">client.UMLGeneratorApp</text>
<text x="2594" y="3177">+ &lt;init&gt;(): void<tspan x="2594" dy="20">+ main(java.lang.String[]): void</tspan></text></g>
<g id="ColorPatternDecorator"><rect class="b" x="3976" y="3073" width="549" height="153"/><path class="dv" d="M3976,3104H4525M3976,3135H4525"/><text class="c" x="4250.5" y="3094">patterns.ColorPatternDecorator</text><text class="c" x="4250.5" y="3125">- color: java.lang.String</text>
<text x="3985" y="3156">+ &lt;init&gt;(): void<tspan x="3985" dy="20">+ &lt;init&gt;(patterns.Pattern): void</tspan><tspan x="3985" dy="20">+ toGraphviz(graph.Graph): java.util.List&lt;graphviz.GraphvizElement&gt;</tspan><tspan x="3985" dy="20">+ setArgs(java.lang.String[]): void</tspan></text></g>
</g>
</svg>
